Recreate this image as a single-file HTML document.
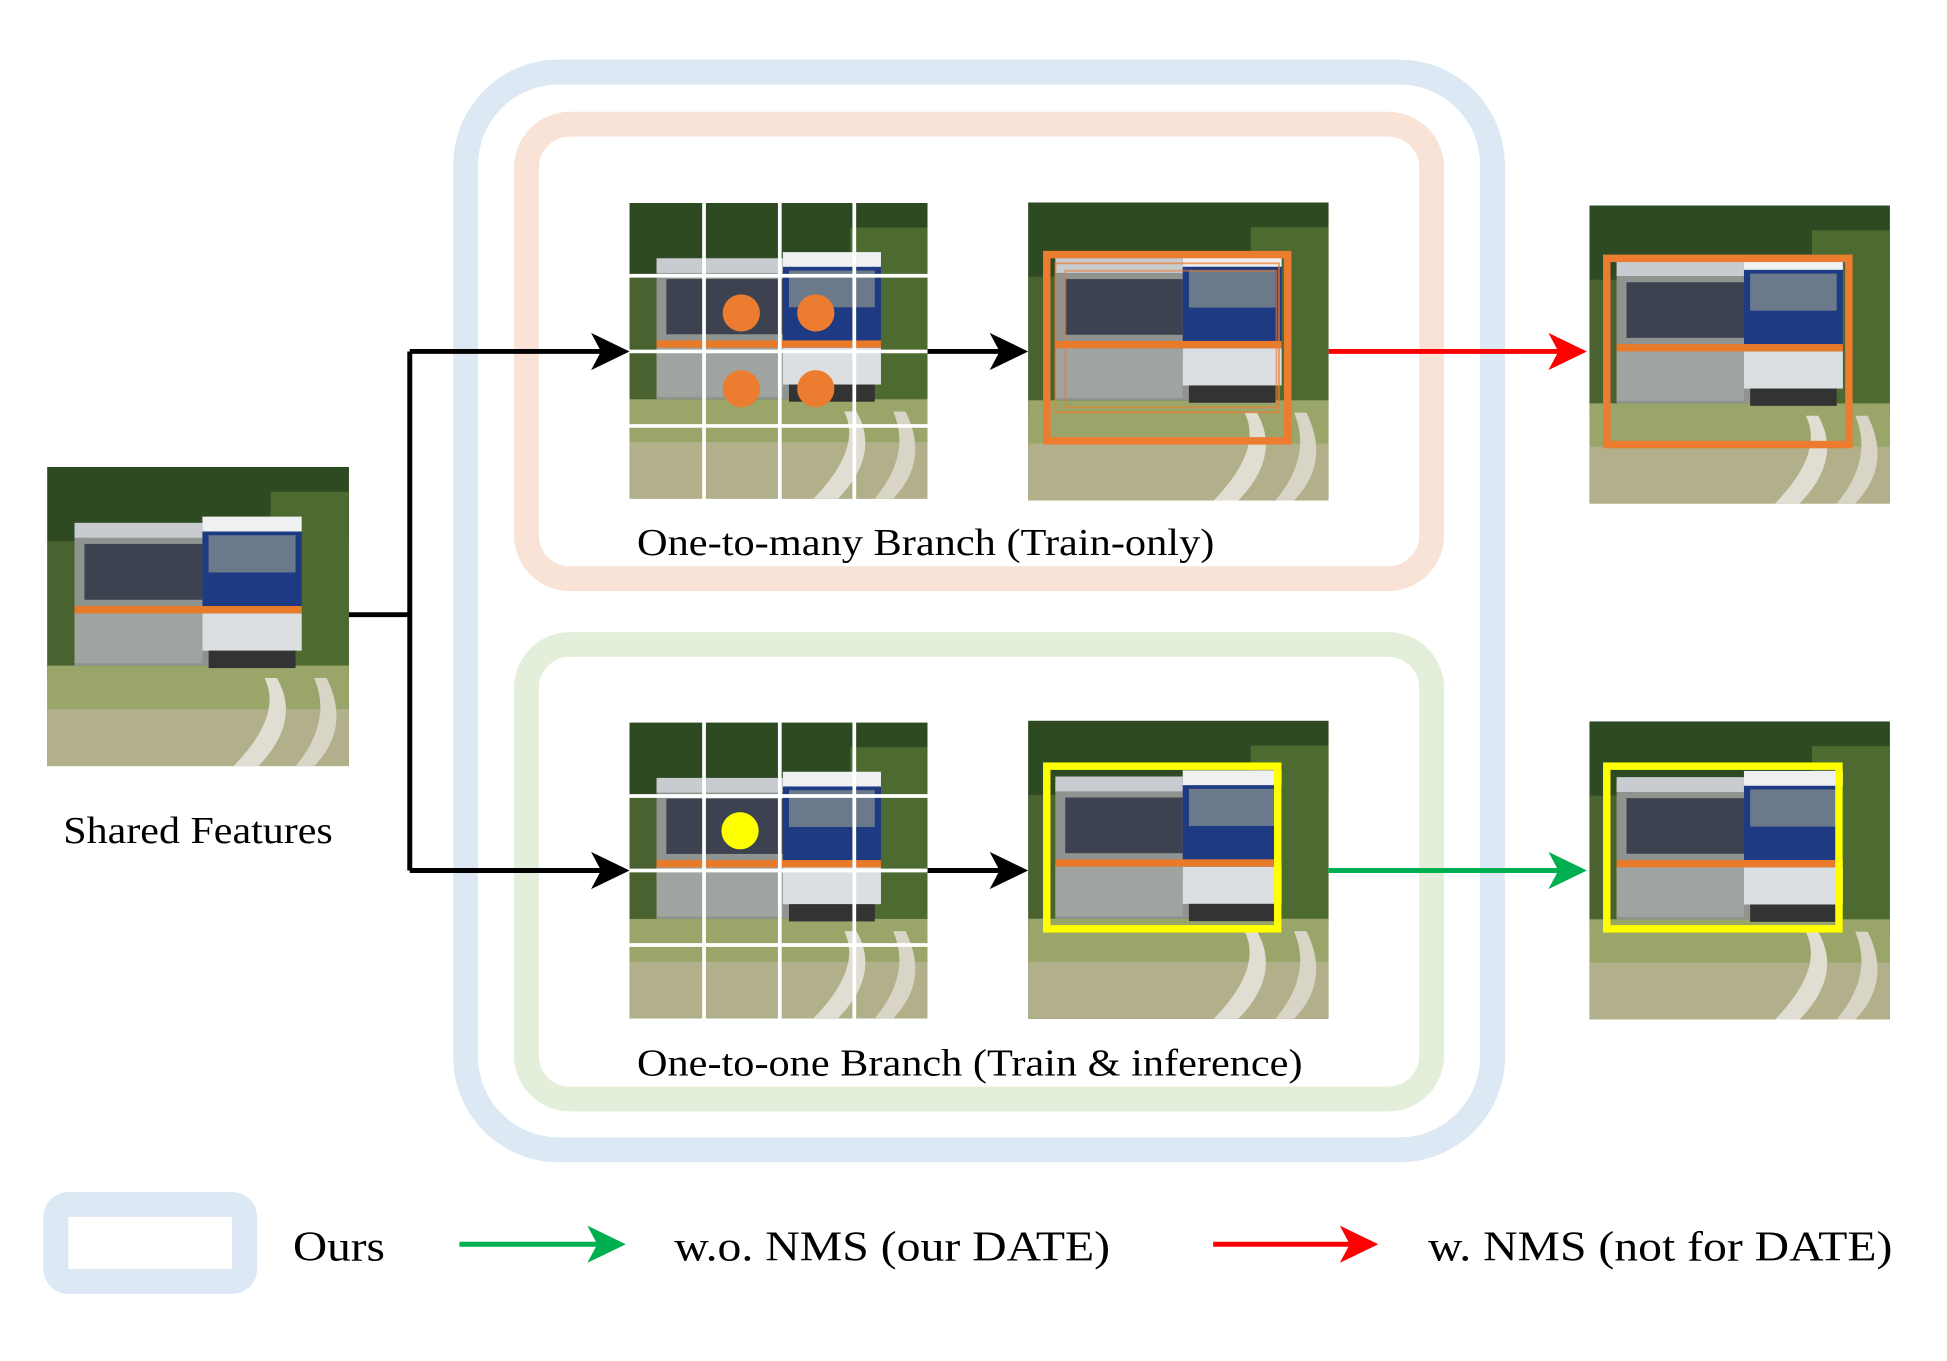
<!DOCTYPE html>
<html><head><meta charset="utf-8"><style>
html,body{margin:0;padding:0;background:#fff;}
svg{display:block}
text{font-family:"Liberation Serif",serif;fill:#000;}
</style></head><body>
<svg width="1947" height="1361" viewBox="0 0 1568 1096" xmlns="http://www.w3.org/2000/svg">
<defs>
<symbol id="img" viewBox="0 0 243 241">
  <rect width="243" height="241" fill="#3f5a2a"/>
  <rect x="0" y="0" width="243" height="60" fill="#2e4a22"/>
  <rect x="180" y="20" width="63" height="150" fill="#4d6a30"/>
  <rect x="0" y="60" width="30" height="110" fill="#4a6230"/>
  <rect x="0" y="160" width="243" height="81" fill="#9aa56a"/>
  <rect x="0" y="195" width="243" height="46" fill="#b2b08a"/>
  <path d="M150 241 Q190 200 175 170 L185 170 Q205 205 170 241Z" fill="#e0ddd2"/>
  <path d="M200 241 Q230 205 215 170 L225 170 Q245 210 215 241Z" fill="#d8d4c6"/>
  <rect x="22" y="50" width="110" height="110" fill="#8f9490"/>
  <rect x="22" y="45" width="180" height="12" fill="#c8ccd0"/>
  <rect x="30" y="62" width="95" height="45" fill="#3c4250"/>
  <rect x="125" y="45" width="80" height="80" fill="#1e3a82"/>
  <rect x="130" y="55" width="70" height="30" fill="#6a7a8a"/>
  <rect x="125" y="40" width="80" height="12" fill="#eef0f2"/>
  <rect x="22" y="112" width="183" height="6" fill="#e87a2a"/>
  <rect x="125" y="118" width="80" height="30" fill="#dcdfe2"/>
  <rect x="22" y="118" width="103" height="40" fill="#a0a4a0"/>
  <rect x="130" y="148" width="70" height="14" fill="#333"/>
</symbol>
</defs>
<rect x="375" y="58" width="827" height="868" rx="75" fill="none" stroke="#dce8f4" stroke-width="20"/>
<rect x="424" y="100" width="729" height="366" rx="35" fill="none" stroke="#f9e3d6" stroke-width="20"/>
<rect x="424" y="519" width="729" height="366" rx="35" fill="none" stroke="#e3efdb" stroke-width="20"/>
<use href="#img" x="38" y="376" width="243" height="241"/>
<use href="#img" x="507" y="163" width="240" height="239"/>
<use href="#img" x="507" y="581" width="240" height="240"/>
<use href="#img" x="828" y="163" width="242" height="240"/>
<use href="#img" x="828" y="580" width="242" height="241"/>
<use href="#img" x="1280" y="165" width="242" height="241"/>
<use href="#img" x="1280" y="580" width="242" height="242"/>
<g stroke="#fff" stroke-width="3">
<line x1="567" y1="163" x2="567" y2="402"/><line x1="628" y1="163" x2="628" y2="402"/><line x1="688" y1="163" x2="688" y2="402"/>
<line x1="507" y1="222" x2="747" y2="222"/><line x1="507" y1="283" x2="747" y2="283"/><line x1="507" y1="343" x2="747" y2="343"/>
<line x1="567" y1="581" x2="567" y2="821"/><line x1="628" y1="581" x2="628" y2="821"/><line x1="688" y1="581" x2="688" y2="821"/>
<line x1="507" y1="641" x2="747" y2="641"/><line x1="507" y1="701" x2="747" y2="701"/><line x1="507" y1="761" x2="747" y2="761"/>
</g>
<g fill="#ec7c30"><circle cx="597" cy="252" r="15"/><circle cx="657" cy="252" r="15"/><circle cx="597" cy="313" r="15"/><circle cx="657" cy="313" r="15"/></g>
<circle cx="596" cy="669" r="15" fill="#ffff00"/>
<g fill="none" stroke="#ec7c30">
<rect x="843" y="205" width="194" height="150" stroke-width="6"/>
<rect x="850" y="212" width="180" height="120" stroke-width="1.5" opacity=".7"/>
<rect x="858" y="218" width="170" height="110" stroke-width="1.5" opacity=".6"/>
<rect x="1294" y="208" width="195" height="150" stroke-width="6"/>
</g>
<rect x="843" y="617" width="186" height="131" fill="none" stroke="#ffff00" stroke-width="6"/>
<rect x="1294" y="617" width="187" height="131" fill="none" stroke="#ffff00" stroke-width="6"/>
<g stroke="#000" stroke-width="4" fill="none">
<polyline points="281,495 330,495"/>
<polyline points="330,283 330,701"/>
<line x1="330" y1="283" x2="503" y2="283"/>
<line x1="330" y1="701" x2="503" y2="701"/>
<line x1="747" y1="283" x2="824" y2="283"/>
<line x1="747" y1="701" x2="824" y2="701"/>
</g>
<g fill="#000">
<path d="M507 283 L476 268 L484 283 L476 298Z"/>
<path d="M507 701 L476 686 L484 701 L476 716Z"/>
<path d="M828 283 L797 268 L805 283 L797 298Z"/>
<path d="M828 701 L797 686 L805 701 L797 716Z"/>
</g>
<line x1="1070" y1="283" x2="1272" y2="283" stroke="#ff0000" stroke-width="4"/>
<path d="M1278 283 L1247 268 L1255 283 L1247 298Z" fill="#ff0000"/>
<line x1="1070" y1="701" x2="1272" y2="701" stroke="#00b050" stroke-width="4"/>
<path d="M1278 701 L1247 686 L1255 701 L1247 716Z" fill="#00b050"/>
<text x="513" y="447" font-size="31" textLength="465" lengthAdjust="spacingAndGlyphs">One-to-many Branch (Train-only)</text>
<text x="513" y="866" font-size="31" textLength="536" lengthAdjust="spacingAndGlyphs">One-to-one Branch (Train &amp; inference)</text>
<text x="51" y="679" font-size="31" textLength="217" lengthAdjust="spacingAndGlyphs">Shared Features</text>
<rect x="45" y="970" width="152" height="62" rx="10" fill="none" stroke="#dce8f4" stroke-width="20"/>
<text x="236" y="1015" font-size="34" textLength="74" lengthAdjust="spacingAndGlyphs">Ours</text>
<line x1="370" y1="1002" x2="498" y2="1002" stroke="#00b050" stroke-width="4"/>
<path d="M504 1002 L473 987 L481 1002 L473 1017Z" fill="#00b050"/>
<text x="543" y="1015" font-size="34" textLength="351" lengthAdjust="spacingAndGlyphs">w.o. NMS (our DATE)</text>
<line x1="977" y1="1002" x2="1104" y2="1002" stroke="#ff0000" stroke-width="4"/>
<path d="M1110 1002 L1079 987 L1087 1002 L1079 1017Z" fill="#ff0000"/>
<text x="1150" y="1015" font-size="34" textLength="374" lengthAdjust="spacingAndGlyphs">w. NMS (not for DATE)</text>
</svg>
</body></html>
